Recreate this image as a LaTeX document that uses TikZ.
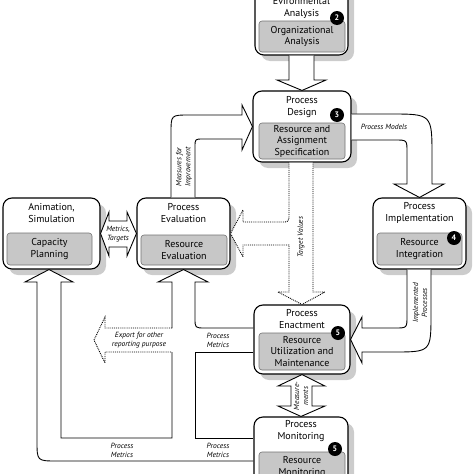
\documentclass[tikz,border=0pt]{standalone}
\usepackage{fontspec}
\setmainfont{PT Sans}
\usepackage{tikz}
\usetikzlibrary{shadows,calc}

\tikzset{
  procbox/.style={draw, line width=1.1pt, fill=white, rounded corners=9pt,
    drop shadow={shadow xshift=6pt, shadow yshift=-6pt, fill=black!20, opacity=1}},
  inbox/.style={draw=black!55, line width=.6pt, fill=black!22, rounded corners=3pt,
    align=center, inner sep=1pt, font=\fontsize{10}{11.5}\selectfont},
  title/.style={align=center, inner sep=0pt, font=\fontsize{10}{12}\selectfont},
  badge/.style={circle, fill=black, text=white, inner sep=0pt, minimum size=14pt,
    font=\fontsize{8}{8}\selectfont\bfseries},
  barrow/.style={draw, line width=.9pt, fill=white, line join=miter},
  darrow/.style={draw, densely dotted, line width=.9pt},
  lbl/.style={align=center, inner sep=0pt, font=\fontsize{7.5}{9}\selectfont\itshape}
}

\begin{document}
\begin{tikzpicture}[x=1pt,y=-1pt]
  \useasboundingbox (0,0) rectangle (474,474);

  % process boxes
  \node[procbox, minimum width=93pt, minimum height=70pt] (env) at (301.5,20) {};
  \node[title] (envT) at (301.5,8) {Evironmental\\Analysis};
  \node[inbox, minimum width=86pt, minimum height=31pt] (envR) at (302,36.5) {Organizational\\Analysis};
  \node[badge] (b2) at (337,18) {2};

  \node[procbox, minimum width=98pt, minimum height=71pt] (design) at (302,126.5) {};
  \node[title] (designT) at (302,107) {Process\\Design};
  \node[inbox, minimum width=86pt, minimum height=36pt] (designR) at (302,141) {Resource and\\Assignment\\Specification};
  \node[badge] (b3) at (337,115) {3};

  \node[procbox, minimum width=93pt, minimum height=71pt] (impl) at (419.5,233.5) {};
  \node[title] (implT) at (419.5,213) {Process\\Implementation};
  \node[inbox, minimum width=85pt, minimum height=32pt] (implR) at (419.5,249) {Resource\\Integration};
  \node[badge] (b4) at (454,238) {4};

  \node[procbox, minimum width=93pt, minimum height=71pt] (eval) at (183.5,233.5) {};
  \node[title] (evalT) at (183.5,213) {Process\\Evaluation};
  \node[inbox, minimum width=86pt, minimum height=30pt] (evalR) at (184,250) {Resource\\Evaluation};

  \node[procbox, minimum width=97pt, minimum height=71pt] (anim) at (51.5,233.5) {};
  \node[title] (animT) at (51.5,213) {Animation,\\Simulation};
  \node[inbox, minimum width=85pt, minimum height=32pt] (animR) at (49.5,249) {Capacity\\Planning};

  \node[procbox, minimum width=96pt, minimum height=69pt] (enact) at (302,339.5) {};
  \node[title] (enactT) at (302,319) {Process\\Enactment};
  \node[inbox, minimum width=86pt, minimum height=37pt] (enactR) at (302,351.5) {Resource\\Utilization and\\Maintenance};
  \node[badge] (b5a) at (338,333) {5};

  \node[procbox, minimum width=94pt, minimum height=70pt] (monit) at (301,452) {};
  \node[title] (monitT) at (301,431) {Process\\Monitoring};
  \node[inbox, minimum width=86pt, minimum height=30pt] (monitR) at (302,467) {Resource\\Monitoring};
  \node[badge] (b5b) at (335,449) {5};

  % broad arrows
  \draw[barrow] (289,0 |- env.south) -- (289,80) -- (277,80) -- (design.north)
    -- (326,80) -- (314,80) -- (314,0 |- env.south);
  \draw[barrow] (design.east |- 0,114) -- (390,114) .. controls (432,114) .. (432,156)
    -- (432,184) -- (444,184) -- (impl.north) -- (394,184) -- (407,184)
    -- (407,152) .. controls (407,140) .. (395,140) -- (design.east |- 0,140);
  \draw[barrow] (407,0 |- impl.south) -- (407,316) .. controls (407,328) .. (395,328)
    -- (362,328) -- (362,317) -- (enact.east) -- (362,363) -- (362,352)
    -- (393,352) .. controls (431,352) .. (431,314) -- (431,0 |- impl.south);
  \draw[barrow] (171,0 |- eval.north) -- (171,133) .. controls (171,115) .. (189,115)
    -- (242,115) -- (242,105) -- (design.west) -- (242,150) -- (242,139)
    -- (203,139) .. controls (195,139) .. (195,147) -- (195,0 |- eval.north);
  \draw[barrow] (anim.east) -- (109,212) -- (109,221) -- (127,221) -- (127,212) -- (eval.west)
    -- (127,256) -- (127,247) -- (109,247) -- (109,256) -- cycle;
  \draw[barrow] (enact.south) -- (325,386) -- (312,386) -- (312,406) -- (325,406) -- (monit.north)
    -- (278,406) -- (291,406) -- (291,386) -- (278,386) -- cycle;

  % process metrics back to evaluation and simulation
  \fill[white] (25,282) -- (49,0 |- anim.south) -- (73,282) -- cycle;
  \draw[barrow, fill=none] (monit.west |- 0,461) -- (57,461) .. controls (37,461) .. (37,441)
    -- (37,282) -- (25,282) -- (49,0 |- anim.south) -- (73,282) -- (61,282)
    -- (61,438) -- (172,438) -- (172,352);
  \draw[barrow] (172,328) -- (172,282) -- (158,282) -- (eval.south) -- (208,282) -- (195,282)
    -- (195,318) .. controls (195,328) .. (205,328) -- (enact.west |- 0,328);
  \draw[barrow, fill=none] (enact.west |- 0,352) -- (195,352) -- (195,438) -- (monit.west |- 0,438);

  % dotted arrows
  \draw[darrow, fill=white] (289,0 |- design.south) -- (289,214) .. controls (289,222) .. (281,222)
    -- (243,222) -- (243,210) -- (eval.east) -- (243,257) -- (243,245) -- (289,245)
    -- (289,292) -- (278,292) -- (enact.north) -- (325,292) -- (313,292) -- (313,0 |- design.south);
  \coordinate (export) at (94,340);
  \draw[darrow] (172,328) -- (105,328) -- (105,317) -- (export) -- (105,363) -- (105,352) -- (172,352);

  % labels
  \node[lbl] (lModels) at (384,127) {Process Models};
  \node[lbl, rotate=90] (lImprove) at (184,167) {Measures for\\Improvement};
  \node[lbl, rotate=90] (lTarget) at (301,237) {Target Values};
  \node[lbl] (lMetTar) at (118,234) {Metrics,\\Targets};
  \node[lbl, rotate=90] (lImpl) at (420,303) {Implemented\\Processes};
  \node[lbl] (lExport) at (139,340) {Export for other\\reporting purpose};
  \node[lbl] (lMet1) at (218,340) {Process\\Metrics};
  \node[lbl] (lMet2) at (122,450) {Process\\Metrics};
  \node[lbl] (lMet3) at (218,450) {Process\\Metrics};
  \node[lbl, rotate=90] (lMeas) at (301,396) {Measure-\\ments};
\end{tikzpicture}
\end{document}
